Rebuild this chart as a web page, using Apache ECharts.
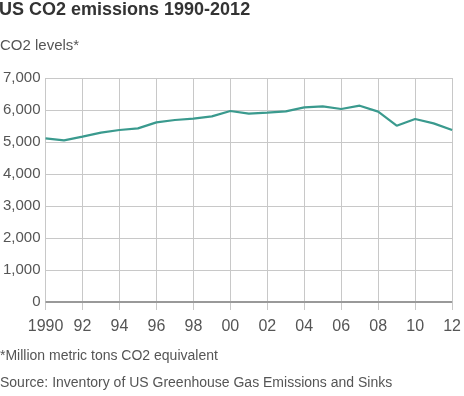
<!DOCTYPE html>
<html>
<head>
<meta charset="utf-8">
<script src="https://cdn.jsdelivr.net/npm/echarts@6/dist/echarts.min.js"></script>
<style>
  html, body { margin: 0; padding: 0; background: #fff; }
  #main { width: 464px; height: 396px; }
</style>
</head>
<body>
<div id="main"></div>
<script>
// US CO2 emissions, million metric tons CO2 equivalent
const years = [1990, 1991, 1992, 1993, 1994, 1995, 1996, 1997, 1998, 1999, 2000, 2001,
  2002, 2003, 2004, 2005, 2006, 2007, 2008, 2009, 2010, 2011, 2012]
const emissions = [5116, 5053, 5166, 5291, 5375, 5427, 5614, 5687, 5729, 5802, 5969, 5885,
  5917, 5958, 6083, 6115, 6031, 6135, 5948, 5510, 5719, 5583, 5375]
const yTicks = [0, 1000, 2000, 3000, 4000, 5000, 6000, 7000]

const font = '"Liberation Sans", Arial, Helvetica, sans-serif'
const points = years.map((y, i) => [y, emissions[i]])

const chart = echarts.init(document.getElementById('main'))
chart.setOption({
  animation: false,
  textStyle: { fontFamily: font },
  title: [
    { text: 'US CO2 emissions 1990-2012', left: -1, top: 1, padding: 0,
      textStyle: { fontSize: 18, fontWeight: 'bold', color: '#333', fontFamily: font } },
    { text: 'CO2 levels*', left: 0, top: 38, padding: 0,
      textStyle: { fontSize: 15, fontWeight: 'normal', color: '#555', fontFamily: font } },
    { text: '*Million metric tons CO2 equivalent', left: 0, top: 349, padding: 0,
      textStyle: { fontSize: 14, fontWeight: 'normal', color: '#555', fontFamily: font } },
    { text: 'Source: Inventory of US Greenhouse Gas Emissions and Sinks', left: 0, top: 376, padding: 0,
      textStyle: { fontSize: 14, fontWeight: 'normal', color: '#555', fontFamily: font } }
  ],
  grid: { left: 45, right: 9, top: 78, bottom: 94, containLabel: false },
  xAxis: {
    type: 'value',
    min: 1990,
    max: 2012,
    interval: 2,
    axisLine: { show: false },
    axisTick: { show: true, length: 8, lineStyle: { color: '#c8c8c8', width: 1 } },
    splitLine: { show: true, lineStyle: { color: '#c8c8c8', width: 1 } },
    axisLabel: {
      margin: 17,
      fontSize: 16,
      color: '#555',
      fontFamily: font,
      formatter: v => v === 1990 ? '1990' : String(v).slice(2)
    }
  },
  yAxis: {
    type: 'value',
    min: yTicks[0],
    max: yTicks[yTicks.length - 1],
    interval: 1000,
    axisLine: { show: false },
    axisTick: { show: false },
    splitLine: { show: true, lineStyle: { color: '#c8c8c8', width: 1 } },
    axisLabel: {
      margin: 5,
      fontSize: 15,
      color: '#555',
      fontFamily: font,
      formatter: v => v.toLocaleString('en-US')
    }
  },
  series: [
    {
      type: 'line',
      data: points,
      symbol: 'none',
      lineStyle: { color: '#3a9a8e', width: 2.2 },
      markLine: {
        silent: true,
        symbol: 'none',
        label: { show: false },
        lineStyle: { color: '#999', width: 2, type: 'solid' },
        data: [{ yAxis: 0 }]
      },
      z: 3
    }
  ]
})
</script>
</body>
</html>
